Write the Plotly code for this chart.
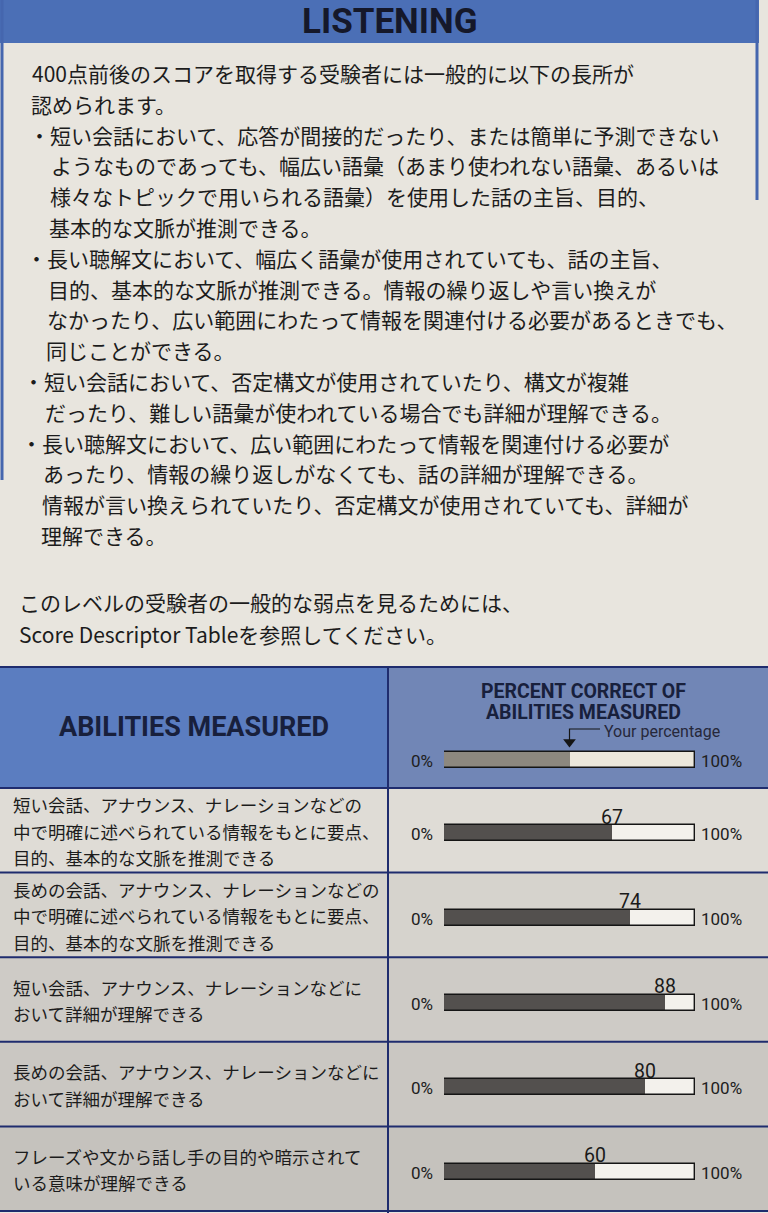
import plotly.graph_objects as go

# ---- content ----
TITLE = "LISTENING"

TOP_LINES = [
    "400点前後のスコアを取得する受験者には一般的に以下の長所が",
    "認められます。",
    "・短い会話において、応答が間接的だったり、または簡単に予測できない",
    "ようなものであっても、幅広い語彙（あまり使われない語彙、あるいは",
    "様々なトピックで用いられる語彙）を使用した話の主旨、目的、",
    "基本的な文脈が推測できる。",
    "・長い聴解文において、幅広く語彙が使用されていても、話の主旨、",
    "目的、基本的な文脈が推測できる。情報の繰り返しや言い換えが",
    "なかったり、広い範囲にわたって情報を関連付ける必要があるときでも、",
    "同じことができる。",
    "・短い会話において、否定構文が使用されていたり、構文が複雑",
    "だったり、難しい語彙が使われている場合でも詳細が理解できる。",
    "・長い聴解文において、広い範囲にわたって情報を関連付ける必要が",
    "あったり、情報の繰り返しがなくても、話の詳細が理解できる。",
    "情報が言い換えられていたり、否定構文が使用されていても、詳細が",
    "理解できる。",
]
# p = paragraph, b = bullet, c = continuation of a bullet
TOP_KINDS = ["p", "p", "b", "c", "c", "c", "b", "c", "c", "c", "b", "c", "b", "c", "c", "c"]

NOTE_LINES = [
    "このレベルの受験者の一般的な弱点を見るためには、",
    "Score Descriptor Tableを参照してください。",
]

LEFT_HEADER = "ABILITIES MEASURED"
RIGHT_HEADER = ["PERCENT CORRECT OF", "ABILITIES MEASURED"]
POINTER_LABEL = "Your percentage"
SAMPLE_PCT = 50

ROW_LABELS = [
    ["短い会話、アナウンス、ナレーションなどの", "中で明確に述べられている情報をもとに要点、", "目的、基本的な文脈を推測できる"],
    ["長めの会話、アナウンス、ナレーションなどの", "中で明確に述べられている情報をもとに要点、", "目的、基本的な文脈を推測できる"],
    ["短い会話、アナウンス、ナレーションなどに", "おいて詳細が理解できる"],
    ["長めの会話、アナウンス、ナレーションなどに", "おいて詳細が理解できる"],
    ["フレーズや文から話し手の目的や暗示されて", "いる意味が理解できる"],
]
ROW_PCTS = [67, 74, 88, 80, 60]
SCALE_LABELS = ["0%", "100%"]

# ---- page geometry (pixels) ----
W, H = 768, 1213
JP = "Noto Sans CJK JP"
EN = "Roboto"
INK = "#1c1c1c"
NAVY = "#1f2c6e"
PAPER = "#e8e5de"

BAR_X0, BAR_X1 = 444, 695
BAR_H = 16
TABLE_TOP = 667
HEAD_BOTTOM = 788
ROW_H = 84.6
DIVIDER_X = 388
SAMPLE_Y = 760


def px(x):
    return x / W


def px_to_pct(x):
    return (x - BAR_X0) / (BAR_X1 - BAR_X0) * 100


row_tops = [HEAD_BOTTOM + i * ROW_H for i in range(len(ROW_PCTS))]
row_mid = [t + ROW_H / 2 for t in row_tops]
bar_y = [SAMPLE_Y] + [m + 3 for m in row_mid]
pcts = [SAMPLE_PCT] + ROW_PCTS
n = len(pcts)

fig = go.Figure()

# empty track, filled part, then the black outline on top
fig.add_trace(go.Bar(
    x=[100] * n, y=bar_y, orientation="h", width=BAR_H,
    marker=dict(color=["#ece8dc"] + ["#f3f1ec"] * (n - 1), line=dict(width=0)),
    hoverinfo="skip",
))
fig.add_trace(go.Bar(
    x=pcts, y=bar_y, orientation="h", width=BAR_H,
    marker=dict(color=["#8d887f"] + ["#53504e"] * (n - 1), line=dict(width=0)),
    hovertemplate="%{x}%<extra></extra>",
))
fig.add_trace(go.Bar(
    x=[100] * n, y=bar_y, orientation="h", width=BAR_H,
    marker=dict(color="rgba(0,0,0,0)", line=dict(width=1.4, color="#151515")),
    hoverinfo="skip",
))

# pointer arrow of the legend bar
fig.add_trace(go.Scatter(
    x=[SAMPLE_PCT], y=[SAMPLE_Y - 18], mode="markers",
    marker=dict(symbol="triangle-down", size=11, color="#151515"),
    hoverinfo="skip",
))

shapes = []
annotations = []

# backgrounds
shapes.append(dict(type="rect", xref="paper", yref="y", x0=0, x1=px(759), y0=0, y1=43,
                   fillcolor="#4b6fb6", line=dict(width=0), layer="below"))
shapes.append(dict(type="line", xref="paper", yref="y", x0=px(2), x1=px(2), y0=0, y1=480,
                   line=dict(color="#4566ae", width=3), layer="below"))
shapes.append(dict(type="line", xref="paper", yref="y", x0=px(757), x1=px(757), y0=0, y1=200,
                   line=dict(color="#4566ae", width=3), layer="below"))
shapes.append(dict(type="rect", xref="paper", yref="y", x0=0, x1=px(DIVIDER_X), y0=TABLE_TOP, y1=HEAD_BOTTOM,
                   fillcolor="#5b7dc0", line=dict(width=0), layer="below"))
shapes.append(dict(type="rect", xref="paper", yref="y", x0=px(DIVIDER_X), x1=1, y0=TABLE_TOP, y1=HEAD_BOTTOM,
                   fillcolor="#7186b6", line=dict(width=0), layer="below"))
row_fill = ["#dfdcd6", "#d6d3cd", "#cecbc6", "#cac7c2", "#c5c2bd"]
for i, top in enumerate(row_tops):
    shapes.append(dict(type="rect", xref="paper", yref="y", x0=0, x1=1, y0=top, y1=top + ROW_H,
                       fillcolor=row_fill[i], line=dict(width=0), layer="below"))

# table rules
for yy in [TABLE_TOP, HEAD_BOTTOM] + [t + ROW_H for t in row_tops]:
    shapes.append(dict(type="line", xref="paper", yref="y", x0=0, x1=1, y0=yy, y1=yy,
                       line=dict(color=NAVY, width=2)))
shapes.append(dict(type="line", xref="paper", yref="y", x0=px(DIVIDER_X), x1=px(DIVIDER_X),
                   y0=TABLE_TOP, y1=H, line=dict(color=NAVY, width=2)))

# pointer elbow line
shapes.append(dict(type="path", xref="x", yref="y",
                   path=f"M {SAMPLE_PCT} {SAMPLE_Y - 20} L {SAMPLE_PCT} 729 L {px_to_pct(600):.2f} 729",
                   line=dict(color="#151515", width=1.2)))


def text(x, y, s, size, font=JP, color=INK, anchor="left", weight="normal", xref="paper"):
    annotations.append(dict(x=x, y=y, xref=xref, yref="y", text=s, showarrow=False,
                            xanchor=anchor, yanchor="middle",
                            font=dict(family=font, size=size, color=color, weight=weight)))


text(px(390), 21, TITLE, 35, font=EN, color="#15182a", anchor="center", weight="bold")

for i, (line, kind) in enumerate(zip(TOP_LINES, TOP_KINDS)):
    y = 73 + 30.8 * i
    left = 30 - 0.025 * (y - 73) + (21 if kind == "c" else 0) - (1.5 if kind == "b" else 0)
    text(px(left), y, line, 21)

for i, line in enumerate(NOTE_LINES):
    text(px(17), 602 + 32 * i, line, 21)

# table header
text(px(194), 727, LEFT_HEADER, 27, font=EN, color="#18203c", anchor="center", weight="bold")
for i, line in enumerate(RIGHT_HEADER):
    text(px(583), 691 + 21 * i, line, 19.5, font=EN, color="#18203c", anchor="center", weight="bold")
text(px(602), 731, POINTER_LABEL, 16, font=EN, color="#26283a")

# scale labels
for y in bar_y:
    text(px(BAR_X0 - 9), y + 1, SCALE_LABELS[0], 17, font=EN, color="#202020", anchor="right")
    text(px(BAR_X1 + 4), y + 1, SCALE_LABELS[1], 17, font=EN, color="#202020")

# row labels and values
for i, lines in enumerate(ROW_LABELS):
    k = len(lines)
    for j, line in enumerate(lines):
        y = row_mid[i] + 1 + (j - (k - 1) / 2) * 26.5
        text(px(11), y, line, 17.5)
    text(ROW_PCTS[i], bar_y[i + 1] - 16, str(ROW_PCTS[i]), 19.5, font=EN, color="#1a1a1a",
         anchor="center", xref="x")

fig.update_layout(
    width=W,
    height=H,
    margin=dict(l=0, r=0, t=0, b=0),
    paper_bgcolor=PAPER,
    plot_bgcolor=PAPER,
    showlegend=False,
    barmode="overlay",
    bargap=0,
    xaxis=dict(domain=[px(BAR_X0), px(BAR_X1)], range=[0, 100], visible=False, fixedrange=True),
    yaxis=dict(range=[H, 0], visible=False, fixedrange=True),
    shapes=shapes,
    annotations=annotations,
)

fig.write_html("out.html", config={"displayModeBar": False},
               post_script="document.body.style.margin='0';")
